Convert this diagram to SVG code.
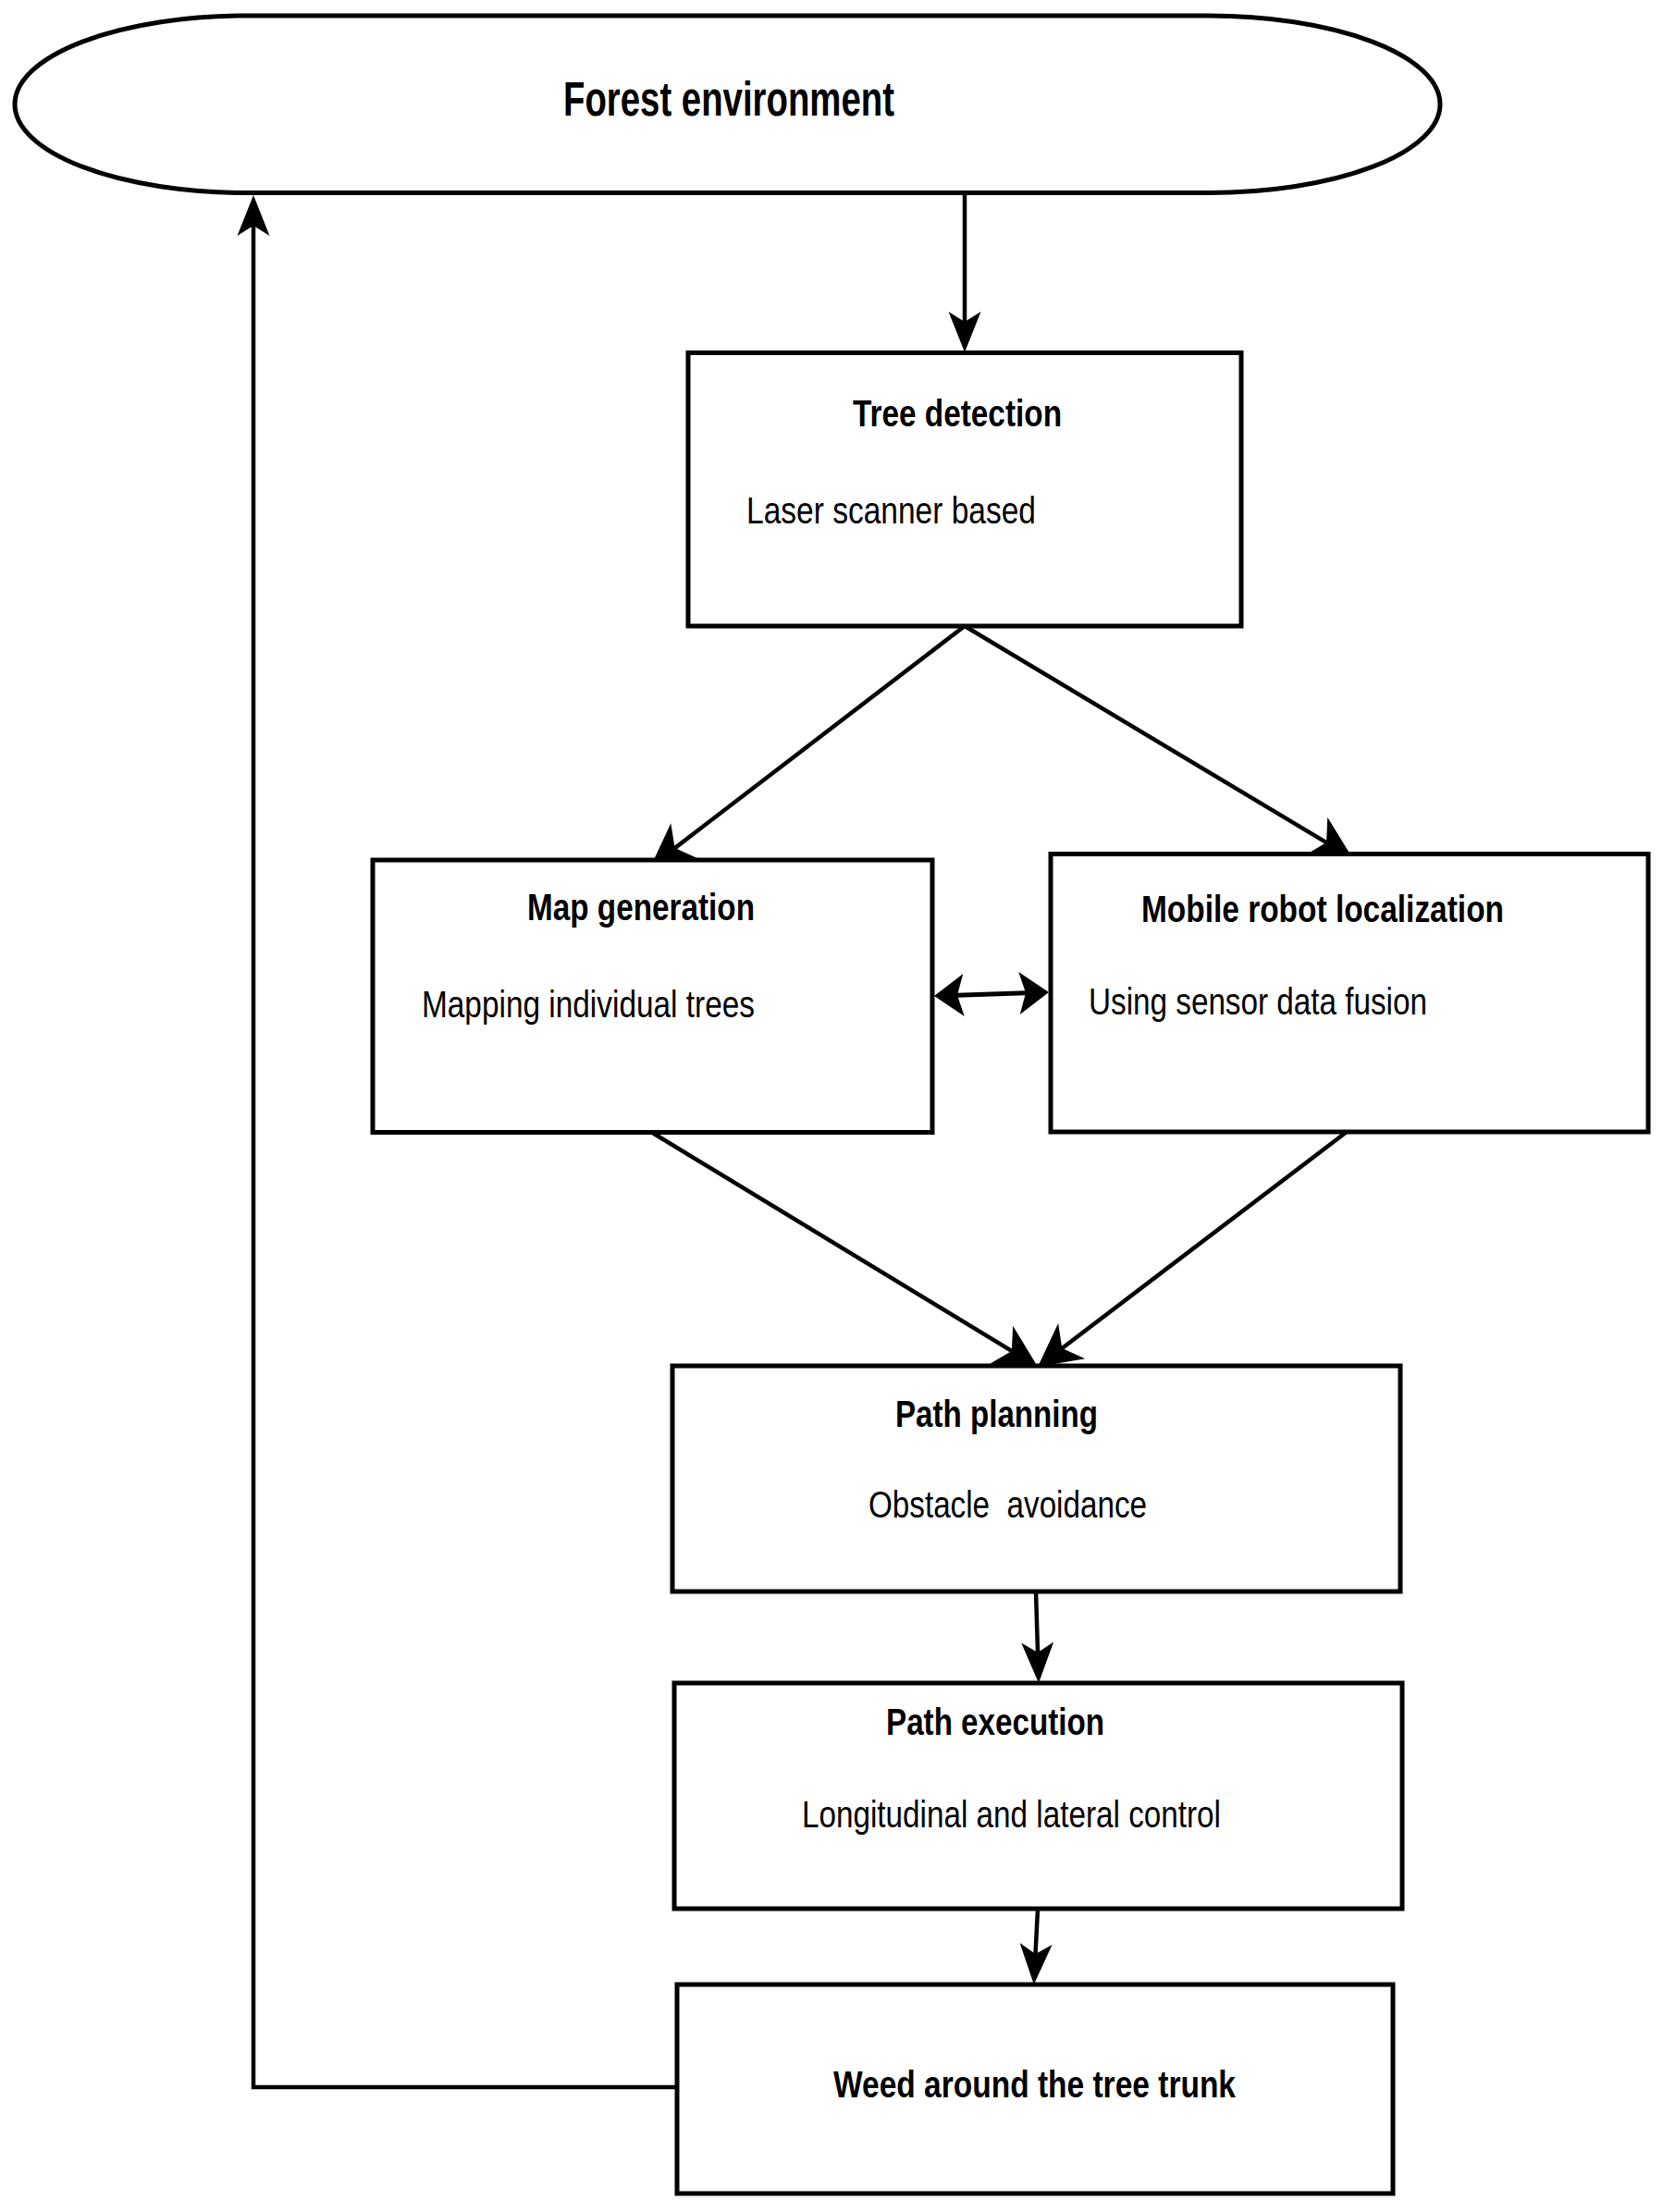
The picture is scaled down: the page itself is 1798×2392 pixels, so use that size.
<svg xmlns="http://www.w3.org/2000/svg" width="1798" height="2392" viewBox="0 0 1798 2392">
<style>
.node{fill:#fff;stroke:#000;stroke-width:5}
.edge{fill:none;stroke:#000;stroke-width:4.5}
.t{font-family:"Liberation Sans",Arial,sans-serif;fill:#000;white-space:pre}
.b{font-weight:bold;font-size:41px}
.r{font-size:41px}
</style>
<defs>
<marker id="av" markerUnits="userSpaceOnUse" viewBox="0 -18 44 36" markerWidth="44" markerHeight="36" refX="11" refY="0" orient="auto" overflow="visible"><path d="M44,0 L0,-17.5 L11,0 L0,17.5 Z" fill="#000"/></marker>
<marker id="ad" markerUnits="userSpaceOnUse" viewBox="0 -24 46 48" markerWidth="46" markerHeight="48" refX="13" refY="0" orient="auto" overflow="visible"><path d="M46,0 L0,-24 L13,0 L0,24 Z" fill="#000"/></marker>
<marker id="a2" markerUnits="userSpaceOnUse" viewBox="0 -23 32 46" markerWidth="32" markerHeight="46" refX="7" refY="0" orient="auto-start-reverse" overflow="visible"><path d="M32,0 L0,-23 L7,0 L0,23 Z" fill="#000"/></marker>
</defs>
<rect width="1798" height="2392" fill="#fff"/>
<g id="connectors">
<path class="edge" d="M1043,211 L1043,348" marker-end="url(#av)"/>
<path class="edge" d="M1043,677 L729.6,917.1" marker-end="url(#ad)"/>
<path class="edge" d="M1043,677 L1434.1,911.1" marker-end="url(#ad)"/>
<path class="edge" style="stroke-width:5" d="M1035,1076.2 L1109,1073.8" marker-start="url(#a2)" marker-end="url(#a2)"/>
<path class="edge" d="M705.5,1225 L1093.8,1460.9" marker-end="url(#ad)"/>
<path class="edge" d="M1456,1224 L1148.3,1458" marker-end="url(#ad)"/>
<path class="edge" d="M1120,1721 L1122,1787" marker-end="url(#av)"/>
<path class="edge" d="M1122,2064 L1119.5,2113" marker-end="url(#av)"/>
<path class="edge" d="M732,2257 L274,2257 L274,244" marker-end="url(#av)"/>
</g>
<g id="forest-environment">
<rect class="node" x="16" y="17" width="1541" height="191.5" rx="250" ry="95.75"/>
<text class="t" x="609" y="125" font-size="51" font-weight="bold" textLength="358" lengthAdjust="spacingAndGlyphs">Forest environment</text>
</g>
<g id="tree-detection">
<rect class="node" x="744" y="381.5" width="598" height="295.5"/>
<text class="t b" x="922" y="461" textLength="226" lengthAdjust="spacingAndGlyphs">Tree detection</text>
<text class="t r" x="807" y="566" textLength="313" lengthAdjust="spacingAndGlyphs">Laser scanner based</text>
</g>
<g id="map-generation">
<rect class="node" x="403" y="930" width="605" height="294.5"/>
<text class="t b" x="570" y="995" textLength="246" lengthAdjust="spacingAndGlyphs">Map generation</text>
<text class="t r" x="456" y="1100" textLength="360" lengthAdjust="spacingAndGlyphs">Mapping individual trees</text>
</g>
<g id="mobile-robot-localization">
<rect class="node" x="1136" y="923.5" width="646" height="300.5"/>
<text class="t b" x="1234" y="997" textLength="392" lengthAdjust="spacingAndGlyphs">Mobile robot localization</text>
<text class="t r" x="1177" y="1097" textLength="366" lengthAdjust="spacingAndGlyphs">Using sensor data fusion</text>
</g>
<g id="path-planning">
<rect class="node" x="727" y="1477" width="787" height="244"/>
<text class="t b" x="968" y="1543" textLength="219" lengthAdjust="spacingAndGlyphs">Path planning</text>
<text class="t r" x="939" y="1641" textLength="301" lengthAdjust="spacingAndGlyphs">Obstacle  avoidance</text>
</g>
<g id="path-execution">
<rect class="node" x="729" y="1820" width="787" height="244"/>
<text class="t b" x="958" y="1876" textLength="236" lengthAdjust="spacingAndGlyphs">Path execution</text>
<text class="t r" x="867" y="1976" textLength="453" lengthAdjust="spacingAndGlyphs">Longitudinal and lateral control</text>
</g>
<g id="weed-around-trunk">
<rect class="node" x="732" y="2146" width="774" height="226"/>
<text class="t b" x="901" y="2268" textLength="435" lengthAdjust="spacingAndGlyphs">Weed around the tree trunk</text>
</g>
</svg>
